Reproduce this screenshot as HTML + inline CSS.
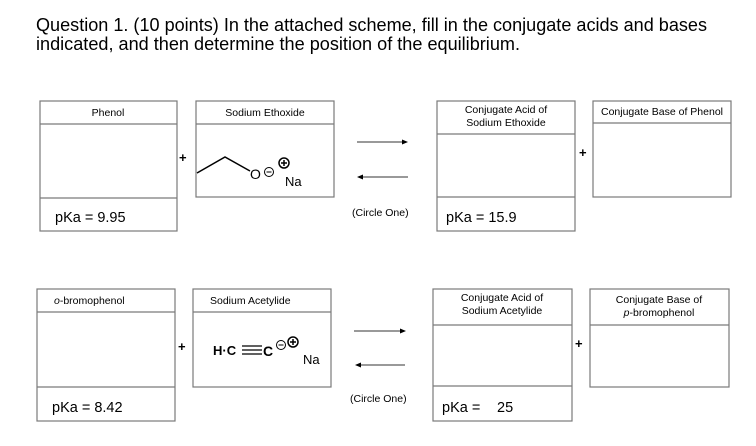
<!DOCTYPE html>
<html><head><meta charset="utf-8"><style>
html,body{margin:0;padding:0;background:#fff;}
svg{display:block;}
text{font-family:"Liberation Sans",Arial,sans-serif;fill:#000;}
.s{font-size:10.5px;}
.p{font-size:14.5px;}
</style></head><body>
<svg width="756" height="446" viewBox="0 0 756 446" xmlns="http://www.w3.org/2000/svg">
<text x="36" y="31" font-size="18" textLength="671" lengthAdjust="spacingAndGlyphs">Question 1. (10 points) In the attached scheme, fill in the conjugate acids and bases</text>
<text x="36" y="50" font-size="18" textLength="484" lengthAdjust="spacingAndGlyphs">indicated, and then determine the position of the equilibrium.</text>
<g fill="none" stroke="#7a7a7a" stroke-width="1.2">
<rect x="40" y="101" width="137" height="130"/><line x1="40" y1="124" x2="177" y2="124"/><line x1="40" y1="198" x2="177" y2="198"/>
<rect x="196" y="101" width="138" height="96"/><line x1="196" y1="124" x2="334" y2="124"/>
<rect x="437" y="101" width="138" height="130"/><line x1="437" y1="134" x2="575" y2="134"/><line x1="437" y1="197" x2="575" y2="197"/>
<rect x="593" y="101" width="138" height="96"/><line x1="593" y1="123" x2="731" y2="123"/>
<rect x="37" y="289" width="138" height="132"/><line x1="37" y1="312" x2="175" y2="312"/><line x1="37" y1="387" x2="175" y2="387"/>
<rect x="193" y="289" width="138" height="98"/><line x1="193" y1="312" x2="331" y2="312"/>
<rect x="433" y="289" width="139" height="132"/><line x1="433" y1="325" x2="572" y2="325"/><line x1="433" y1="386" x2="572" y2="386"/>
<rect x="590" y="289" width="139" height="98"/><line x1="590" y1="325" x2="729" y2="325"/>
</g>
<g stroke="#333" stroke-width="1">
<line x1="357" y1="142" x2="404" y2="142"/><line x1="362" y1="177" x2="408" y2="177"/>
<line x1="354" y1="331" x2="402" y2="331"/><line x1="360" y1="365" x2="405" y2="365"/>
</g>
<g fill="#000">
<polygon points="408,142 402,139.5 402,144.5"/><polygon points="357,177 363,174.5 363,179.5"/>
<polygon points="406,331 400,328.5 400,333.5"/><polygon points="355,365 361,362.5 361,367.5"/>
</g>
<g font-weight="bold" font-size="13">
<text x="179" y="162">+</text><text x="579" y="157">+</text>
<text x="178" y="351">+</text><text x="575" y="348">+</text>
</g>
<text class="s" x="108" y="116" text-anchor="middle">Phenol</text>
<text class="s" x="265" y="116" text-anchor="middle">Sodium Ethoxide</text>
<text class="s" x="506" y="113" text-anchor="middle">Conjugate Acid of</text>
<text class="s" x="506" y="126" text-anchor="middle">Sodium Ethoxide</text>
<text class="s" x="662" y="115" text-anchor="middle">Conjugate Base of Phenol</text>
<text class="s" x="54" y="304"><tspan font-style="italic">o</tspan>-bromophenol</text>
<text class="s" x="210" y="304">Sodium Acetylide</text>
<text class="s" x="502" y="301" text-anchor="middle">Conjugate Acid of</text>
<text class="s" x="502" y="314" text-anchor="middle">Sodium Acetylide</text>
<text class="s" x="659" y="303" text-anchor="middle">Conjugate Base of</text>
<text class="s" x="659" y="316" text-anchor="middle"><tspan font-style="italic">p</tspan>-bromophenol</text>
<text class="s" x="352" y="216">(Circle One)</text>
<text class="s" x="350" y="402">(Circle One)</text>
<text class="p" x="55" y="222">pKa = 9.95</text>
<text class="p" x="446" y="222">pKa = 15.9</text>
<text class="p" x="52" y="412">pKa = 8.42</text>
<text class="p" x="442" y="412">pKa =</text><text class="p" x="497" y="412">25</text>
<polyline points="197,173 225,157 250,171" fill="none" stroke="#000" stroke-width="1.5"/>
<text x="250" y="179" font-size="14">O</text>
<circle cx="269" cy="172" r="4.5" fill="none" stroke="#000" stroke-width="1"/><line x1="266.5" y1="172" x2="271.5" y2="172" stroke="#000"/>
<circle cx="284" cy="163" r="5" fill="none" stroke="#000" stroke-width="1.5"/><line x1="281" y1="163" x2="287" y2="163" stroke="#000" stroke-width="1.5"/><line x1="284" y1="160" x2="284" y2="166" stroke="#000" stroke-width="1.5"/>
<text x="285" y="186" font-size="13">Na</text>
<text x="213" y="355" font-size="13" font-weight="bold">H·C</text>
<g stroke="#000" stroke-width="1.3"><line x1="242" y1="346" x2="262" y2="346"/><line x1="242" y1="350" x2="262" y2="350"/><line x1="242" y1="354" x2="262" y2="354"/></g>
<text x="263" y="356" font-size="14" font-weight="bold">C</text>
<circle cx="281" cy="345" r="4.5" fill="none" stroke="#000" stroke-width="1"/><line x1="278.5" y1="345" x2="283.5" y2="345" stroke="#000"/>
<circle cx="293" cy="342" r="5" fill="none" stroke="#000" stroke-width="1.5"/><line x1="290" y1="342" x2="296" y2="342" stroke="#000" stroke-width="1.5"/><line x1="293" y1="339" x2="293" y2="345" stroke="#000" stroke-width="1.5"/>
<text x="303" y="364" font-size="13">Na</text>
</svg>
</body></html>
